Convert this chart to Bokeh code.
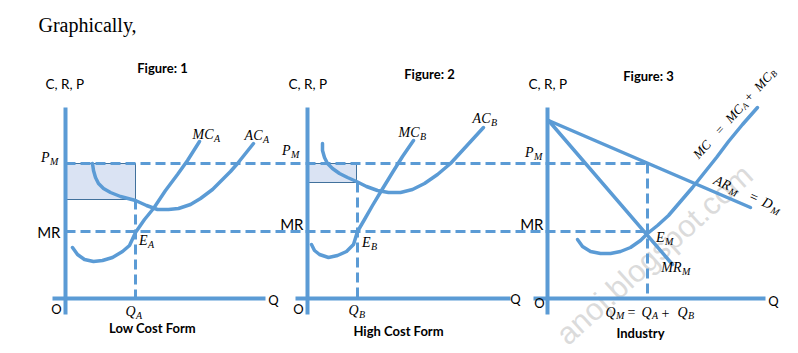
import math
from bokeh.plotting import figure
from bokeh.models import Range1d
from bokeh.core.properties import value
from bokeh.embed import file_html
from bokeh.resources import INLINE

# ---------------- data (screen-pixel diagram coordinates) ----------------
W, H = 798, 353

# axes of the three panels
yaxis_x = [65, 307, 547]
yaxis_top = [107, 107, 107]
yaxis_bottom = [314, 314, 314]
xaxis_y = [298, 298, 298]
xaxis_start = [52, 295, 533]
xaxis_end = [265, 510, 765]

# price / marginal revenue levels and quantities
level_PM = 163
level_MR = 231
q_A, q_B, q_M = 135, 357, 647
dash_start, dash_end = 65, 647

# Figure 1: low cost firm
mcA_x = [72, 77, 84, 93, 102, 112, 122, 129, 135, 144, 153, 165, 177, 187, 199]
mcA_y = [247, 254, 259, 261, 260, 257, 251, 245, 232, 219, 208, 190, 174, 160, 141]
acA_x = [92, 93, 95, 98, 103, 110, 120, 135, 146, 157, 168, 178, 190, 200, 212, 222, 230, 237, 245, 253]
acA_y = [163, 170, 177, 183, 188, 192, 196, 200, 205, 209, 209, 208, 204, 198, 189, 179, 171, 163, 153, 143]
rectA = dict(left=66, right=135, top=163, bottom=199)

# Figure 2: high cost firm
mcB_x = [311, 314, 319, 328, 337, 346, 353, 357, 364, 372, 381, 392, 402, 413]
mcB_y = [244, 250, 254, 257, 255, 251, 244, 231, 219, 205, 190, 172, 156, 140]
acB_x = [322, 322, 324, 327, 332, 339, 347, 356, 366, 377, 388, 400, 412, 424, 437, 450, 461, 472, 483]
acB_y = [143, 150, 157, 163, 168, 173, 177, 181, 186, 190, 192, 192, 189, 183, 174, 163, 151, 139, 127]
rectB = dict(left=308, right=356, top=163, bottom=182)

# Figure 3: industry
ar_x = [548, 750]
ar_y = [120, 207]
mrM_x = [548, 672]
mrM_y = [120, 264]
mcM_x = [577, 582, 590, 600, 610, 620, 630, 640, 647, 657, 668, 680, 692, 704, 716, 728, 742, 757]
mcM_y = [239, 246, 251, 253, 253, 251, 247, 240, 233, 225, 215, 201, 187, 172, 157, 141, 124, 107]

# texts
title_text = "Graphically,"
fig_titles = ["Figure: 1", "Figure: 2", "Figure: 3"]
fig_title_x = [162, 429, 648]
fig_title_y = [67, 73, 75]
crp_x = [45, 288, 528]
crp_y = [83, 83, 83]
bottom_names = ["Low Cost Form", "High Cost Form", "Industry"]
bottom_x = [152, 398, 640]
bottom_y = [327, 330, 332]
mr_label_x = [60, 303, 543]
mr_label_y = [231, 223, 223]
o_label_x = [56, 298, 539]
o_label_y = [308, 308, 302]
q_label_x = [273, 515, 773]
q_label_y = [299, 298, 300]
watermark = "anoj.blogspot.com"

BLUE = "#5b9bd5"
SERIF = "Liberation Serif"
SANS = "Lato"

p = figure(width=W, height=H, x_range=Range1d(0, W), y_range=Range1d(H, 0),
           output_backend="svg", toolbar_location=None, min_border=0,
           min_border_left=0, min_border_right=0, min_border_top=0, min_border_bottom=0)
p.axis.visible = False
p.grid.visible = False
p.outline_line_color = None
p.background_fill_color = "white"
p.border_fill_color = "white"


def txt(x, y, s, size=13, font=SANS, style="normal", align="left", angle=0.0,
        color="#000000", baseline="middle", alpha=1.0):
    p.text(x=[x], y=[y], text=[s], text_font=value(font), text_font_size=f"{size}px",
           text_font_style=style, text_align=align, text_baseline=baseline,
           angle=angle, text_color=color, text_alpha=alpha)


def msub(xs, y, main, sub, size=14, ssize=10, dy=4):
    txt(xs, y, main, size=size, font=SERIF, style="italic", align="right")
    txt(xs + 0.5, y + dy, sub, size=ssize, font=SERIF, style="italic", align="left")


def rot_pieces(x0, y0, theta_deg, pieces):
    th = math.radians(theta_deg)
    ux, uy = math.cos(th), -math.sin(th)
    nx, ny = math.sin(th), math.cos(th)
    for d, s, size, off, align in pieces:
        txt(x0 + d * ux + off * nx, y0 + d * uy + off * ny, s, size=size, font=SERIF,
            style="italic", align=align, angle=th)


# watermark (behind)
txt(654, 254, watermark, size=31, font="Liberation Sans", align="center",
    angle=math.radians(42), color="#d2d2d2", alpha=0.8)

# shaded rectangles
for r in (rectA, rectB):
    p.quad(left=[r["left"]], right=[r["right"]], top=[r["top"]], bottom=[r["bottom"]],
           fill_color="#dae3f3", line_color="#41719c", line_width=1)

# dashed guide lines
p.line([dash_start, dash_end], [level_PM, level_PM], line_color=BLUE, line_width=3, line_dash="10 5")
p.line([dash_start, dash_end], [level_MR, level_MR], line_color=BLUE, line_width=3, line_dash="10 5")
p.line([q_A, q_A], [rectA["bottom"], xaxis_y[0]], line_color=BLUE, line_width=3, line_dash="10 5")
p.line([q_B, q_B], [rectB["bottom"], xaxis_y[1]], line_color=BLUE, line_width=3, line_dash="10 5")
p.line([q_M, q_M], [level_PM, xaxis_y[2]], line_color=BLUE, line_width=3, line_dash="10 5")

# axes
for i in range(3):
    p.line([yaxis_x[i], yaxis_x[i]], [yaxis_top[i], yaxis_bottom[i]], line_color=BLUE, line_width=4)
    p.line([xaxis_start[i], xaxis_end[i]], [xaxis_y[i], xaxis_y[i]], line_color=BLUE, line_width=4)

# curves
for xs, ys in ((mcA_x, mcA_y), (acA_x, acA_y), (mcB_x, mcB_y), (acB_x, acB_y),
               (ar_x, ar_y), (mrM_x, mrM_y), (mcM_x, mcM_y)):
    p.line(xs, ys, line_color=BLUE, line_width=3.5, line_join="round", line_cap="round")

# title
txt(38, 24, title_text, size=20, font=SERIF, baseline="alphabetic")

# plain labels
for i in range(3):
    txt(fig_title_x[i], fig_title_y[i], fig_titles[i], size=13, style="bold", align="center")
    txt(crp_x[i], crp_y[i], "C, R, P", size=13.5)
    txt(bottom_x[i], bottom_y[i], bottom_names[i], size=13, style="bold", align="center")
    txt(mr_label_x[i], mr_label_y[i], "MR", size=15, align="right")
    txt(o_label_x[i], o_label_y[i], "O", size=13, align="center")
    txt(q_label_x[i], q_label_y[i], "Q", size=13, align="center")

# math labels
msub(49, 157, "P", "M")
msub(290, 150, "P", "M")
msub(533, 152, "P", "M")
msub(213, 134, "MC", "A")
msub(262, 135, "AC", "A")
msub(419, 132, "MC", "B")
msub(490, 118, "AC", "B")
msub(147, 240, "E", "A")
msub(370, 242, "E", "B")
msub(664, 237, "E", "M")
msub(681, 267, "MR", "M")
msub(135, 311, "Q", "A")
msub(358, 310, "Q", "B")
# Q_M = Q_A + Q_B
msub(615, 312, "Q", "M", dy=3)
txt(631, 312, "=", size=14, font=SERIF, align="center")
msub(651, 312, "Q", "A", dy=3)
txt(665, 312, "+", size=14, font=SERIF, align="center")
msub(687, 312, "Q", "B", dy=3)

# rotated labels
rot_pieces(695, 156, 48, [
    (0, "MC", 13, 0, "left"),
    (36, "=", 13, 0, "center"),
    (48, "MC", 13, 0, "left"),
    (68, "A", 9, 3, "left"),
    (80, "+", 13, 0, "center"),
    (91, "MC", 13, 0, "left"),
    (111, "B", 9, 3, "left"),
])
rot_pieces(714, 179, -24, [
    (0, "AR", 14, 0, "left"),
    (18, "M", 10, 4, "left"),
    (43, "=", 14, 0, "center"),
    (53, "D", 14, 0, "left"),
    (64, "M", 10, 4, "left"),
])

open("out.html", "w").write(file_html(p, INLINE))
